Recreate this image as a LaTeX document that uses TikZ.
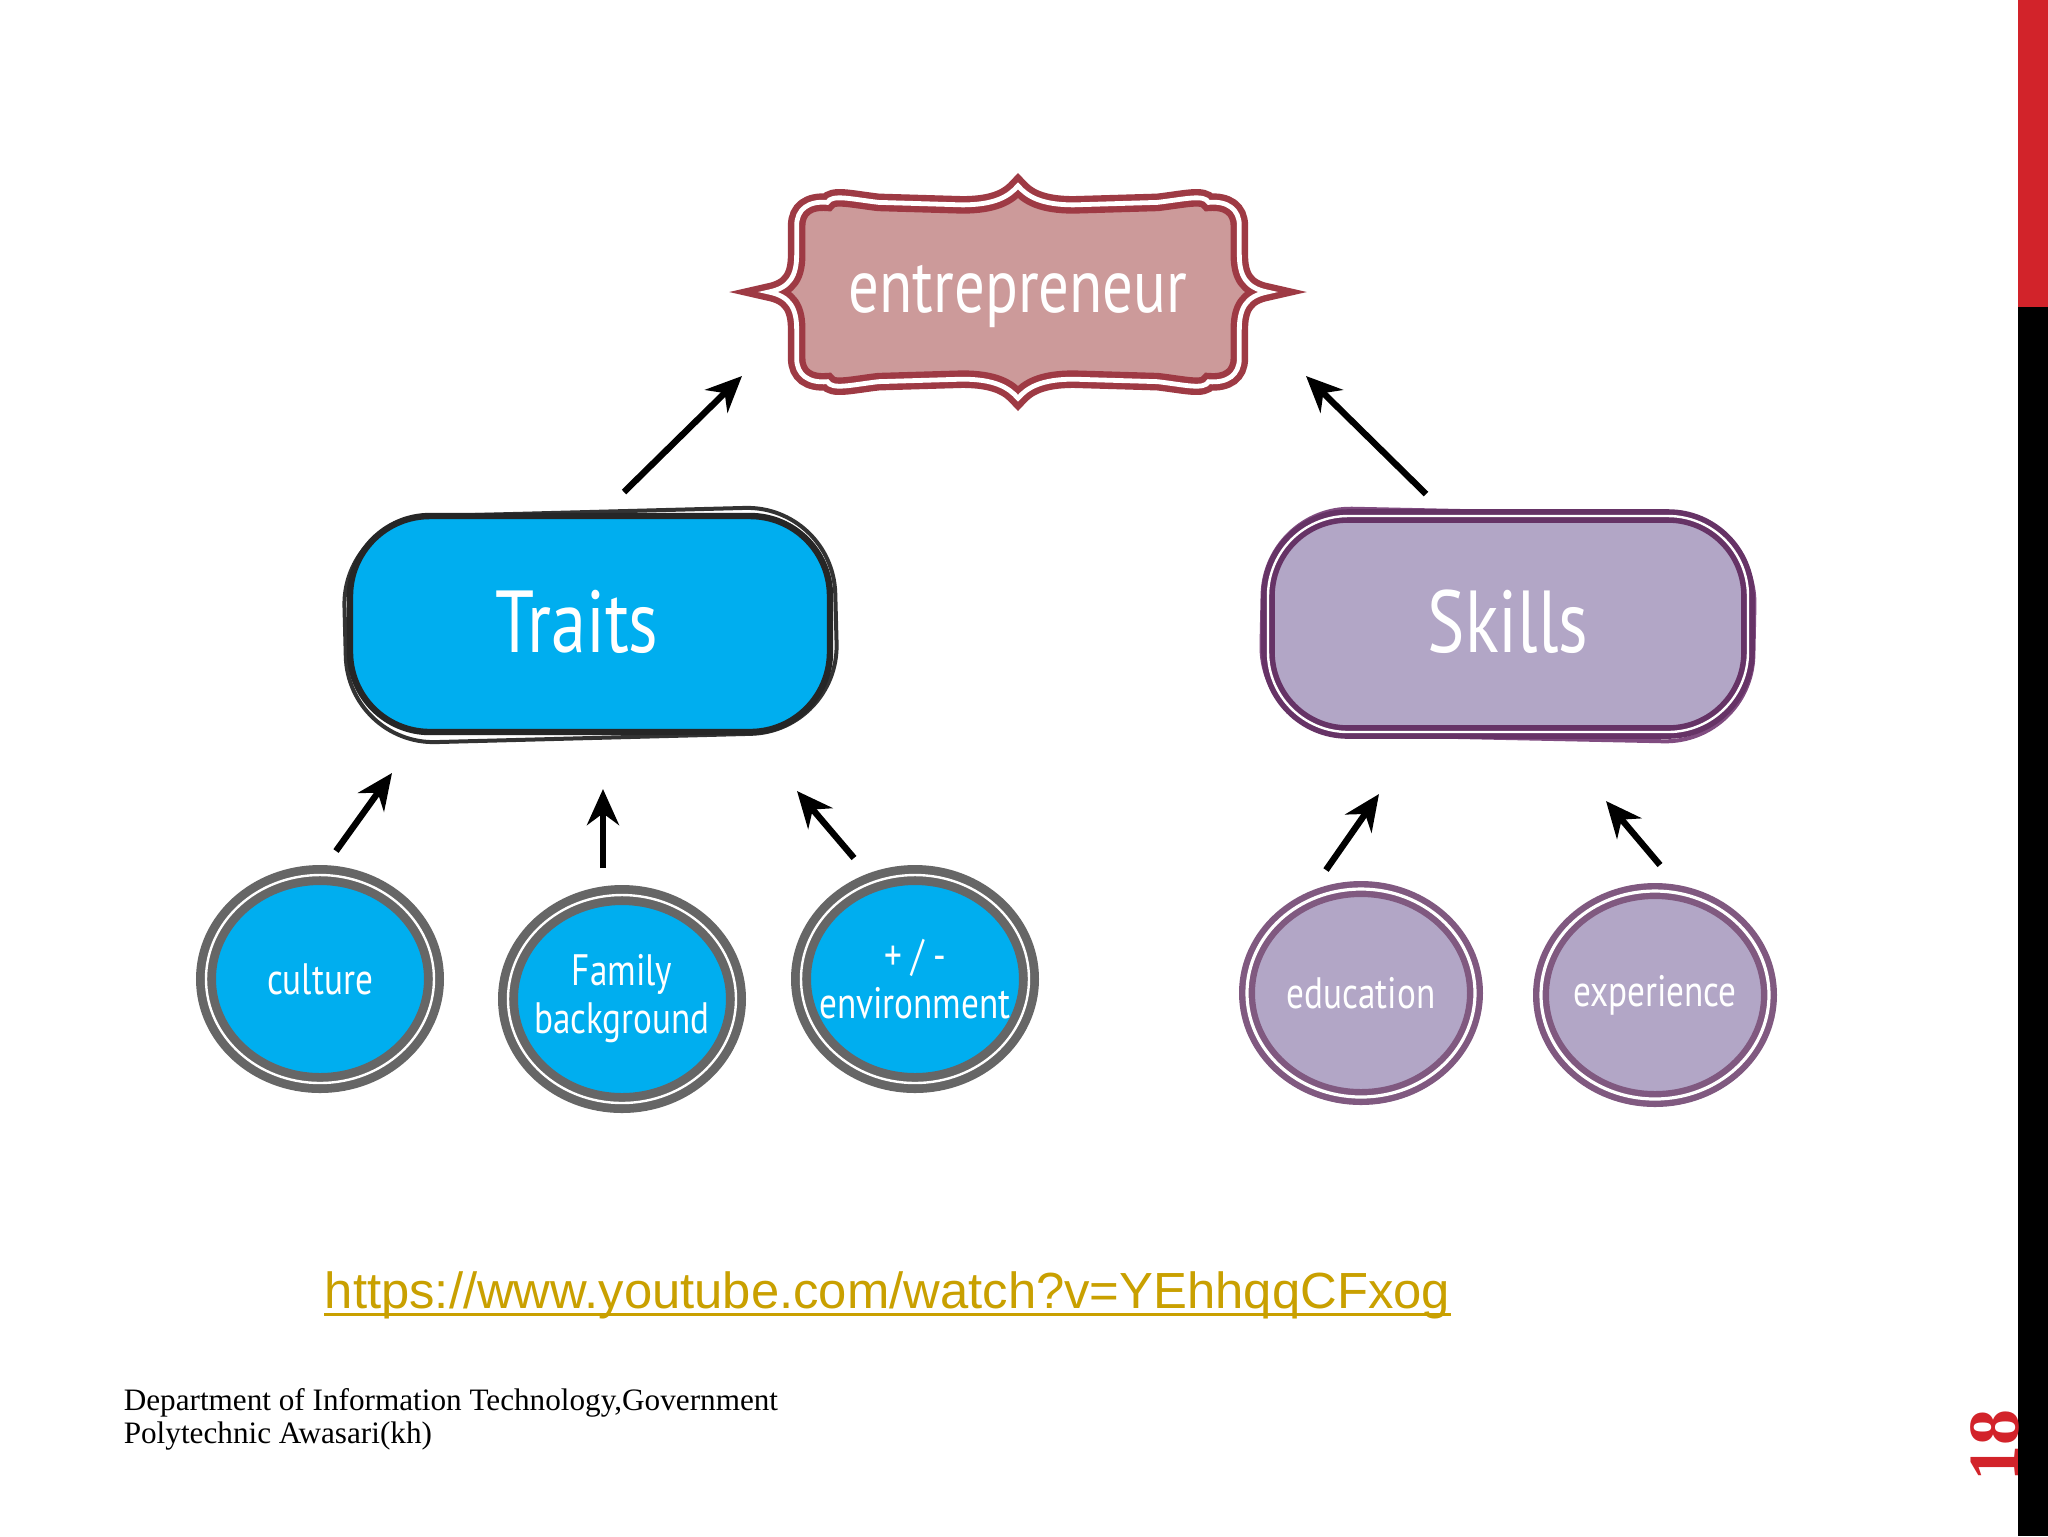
\documentclass[tikz,border=0pt]{standalone}
\usepackage{fontspec}
\setmainfont{Liberation Serif}
\newfontfamily\hand{PT Sans}
\newfontfamily\arialf{Liberation Sans}
\usetikzlibrary{arrows.meta,shapes.geometric}
\definecolor{cyanb}{HTML}{00AEEF}
\definecolor{lilac}{HTML}{B2A6C6}
\definecolor{rosef}{HTML}{CC9A9A}
\definecolor{rosed}{HTML}{9E3A44}
\definecolor{gold}{HTML}{C9A000}
\definecolor{redbar}{HTML}{D2232A}
\tikzset{
  arr/.style={-{Stealth[length=9pt,width=8pt]},line width=1.6pt,black},
  lbl/.style={text=white,font=\hand\bfseries,align=center,inner sep=0pt},
  tcirc/.style={ellipse,minimum width=57pt,minimum height=52pt,fill=cyanb,draw=gray!80!black,line width=2.2pt,double=white,double distance=0.6pt},
  scirc/.style={ellipse,minimum width=57pt,minimum height=52pt,fill=lilac,draw=gray!70!violet,line width=1.6pt,double=white,double distance=0.8pt},
}
\begin{document}
\begin{tikzpicture}[x=0.25pt,y=-0.25pt]
\useasboundingbox (0,0) rectangle (2048,1536);
\fill[white] (0,0) rectangle (2048,1536);
\fill[redbar] (2018,0) rectangle (2048,307);
\fill[black] (2018,307) rectangle (2048,1536);
% entrepreneur frame
\begin{scope}[shift={(1018,292)},xscale=0.93,yscale=0.83]
\path[fill=rosef,draw=rosed,line width=1.6pt,double=white,double distance=1.2pt]
 (-268,0) .. controls (-245,-5) and (-238,-20) .. (-238,-45)
 -- (-238,-80) .. controls (-238,-100) and (-225,-110) .. (-205,-108)
 .. controls (-200,-118) and (-180,-112) .. (-150,-108)
 -- (-60,-105) .. controls (-25,-105) and (-10,-115) .. (0,-128)
 .. controls (10,-115) and (25,-105) .. (60,-105)
 -- (150,-108) .. controls (180,-112) and (200,-118) .. (205,-108)
 .. controls (225,-110) and (238,-100) .. (238,-80)
 -- (238,-45) .. controls (238,-20) and (245,-5) .. (268,0)
 .. controls (245,5) and (238,20) .. (238,45)
 -- (238,80) .. controls (238,100) and (225,110) .. (205,108)
 .. controls (200,118) and (180,112) .. (150,108)
 -- (60,105) .. controls (25,105) and (10,115) .. (0,128)
 .. controls (-10,115) and (-25,105) .. (-60,105)
 -- (-150,108) .. controls (-180,112) and (-200,118) .. (-205,108)
 .. controls (-225,110) and (-238,100) .. (-238,80)
 -- (-238,45) .. controls (-238,20) and (-245,5) .. (-268,0) -- cycle;
\end{scope}
\node[lbl,font=\hand\fontsize{19}{19}\selectfont,xscale=0.8] (ent) at (1018,296) {entrepreneur};
\coordinate (entL) at (742,376);
\coordinate (entR) at (1306,376);
% traits
\draw[black!80,line width=1pt,rounded corners=22pt,rotate around={1.5:(590,624)}] (345,512) rectangle (836,738);
\node[draw=black!85,line width=1.6pt,fill=cyanb,rounded corners=20pt,minimum width=120pt,minimum height=54pt] (traits) at (590,624) {};
\node[lbl,font=\hand\fontsize{22}{22}\selectfont,xscale=0.8] at (577,622) {Traits};
% skills
\draw[gray!60!violet,line width=1pt,rounded corners=22pt,rotate around={-1.2:(1508,624)}] (1262,512) rectangle (1754,738);
\node[draw=gray!50!violet!80!black,line width=1.4pt,double=white,double distance=0.6pt,fill=lilac,rounded corners=20pt,minimum width=120pt,minimum height=54pt] (skills) at (1508,624) {};
\node[lbl,font=\hand\fontsize{22}{22}\selectfont,xscale=0.8] at (1508,622) {Skills};
% circles
\node[tcirc] (cul) at (320,979) {};
\node[lbl,font=\hand\fontsize{11}{11}\selectfont,xscale=0.8] at (cul) {culture};
\node[tcirc] (fam) at (622,999) {};
\node[lbl,font=\hand\fontsize{11}{12}\selectfont,xscale=0.8] at (fam) {Family\\background};
\node[tcirc] (env) at (915,979) {};
\node[lbl,font=\hand\fontsize{11}{12}\selectfont,xscale=0.8] at (env) {+ / -\\environment};
\node[scirc] (edu) at (1361,993) {};
\node[lbl,font=\hand\fontsize{11}{11}\selectfont,xscale=0.8] at (edu) {education};
\node[scirc] (exp) at (1655,995) {};
\node[lbl,font=\hand\fontsize{11}{11}\selectfont,xscale=0.8] at (exp) {experience};
% arrows
\draw[arr] ([shift={(34,-132)}]traits.center) -- (entL);
\draw[arr] ([shift={(-82,-130)}]skills.center) -- (entR);
\draw[arr] ([shift={(16,-128)}]cul.center) -- ([shift={(72,-206)}]cul.center);
\draw[arr] ([shift={(-19,-131)}]fam.center) -- ([shift={(-19,-210)}]fam.center);
\draw[arr] ([shift={(-61,-121)}]env.center) -- ([shift={(-118,-188)}]env.center);
\draw[arr] ([shift={(-35,-123)}]edu.center) -- ([shift={(18,-199)}]edu.center);
\draw[arr] ([shift={(5,-130)}]exp.center) -- ([shift={(-49,-194)}]exp.center);
% url
\node[text=gold,font=\arialf\fontsize{12.7}{13}\selectfont,inner sep=0pt,anchor=west] (url) at (324,1295) {https://www.youtube.com/watch?v=YEhhqqCFxog};
\draw[gold,line width=0.7pt] ([yshift=-1.5pt]url.base west) -- ([yshift=-1.5pt]url.base east);
% footer
\node[font=\fontsize{7.8}{8.3}\selectfont,align=left,inner sep=0pt,anchor=north west] (foot) at (123,1388) {Department of Information Technology,Government\\Polytechnic Awasari(kh)};
\node[text=redbar,font=\bfseries\fontsize{18}{18}\selectfont,rotate=90,inner sep=0pt] (pg) at (1995,1445) {18};
\end{tikzpicture}
\end{document}
